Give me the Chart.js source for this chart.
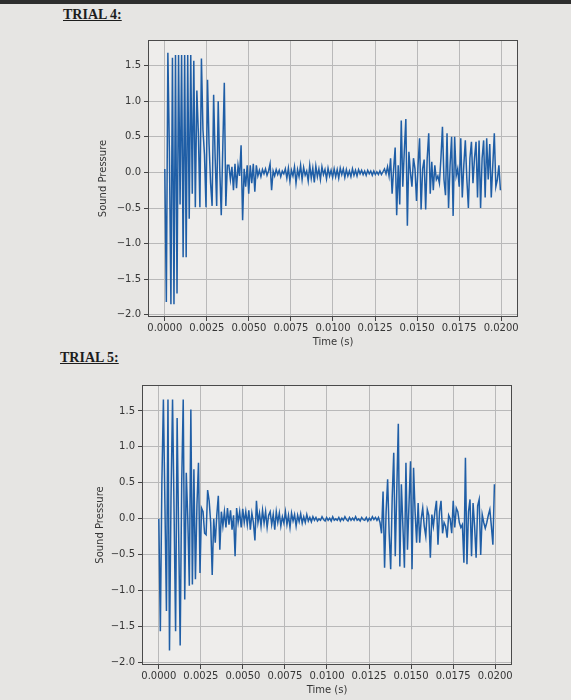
<!DOCTYPE html>
<html>
<head>
<meta charset="utf-8">
<script src="https://cdn.jsdelivr.net/npm/chart.js@4.4.1/dist/chart.umd.min.js"></script>
<style>
  html, body { margin: 0; padding: 0; }
  body {
    width: 571px; height: 700px; position: relative; overflow: hidden;
    background: #e6e5e3; font-family: "DejaVu Sans", sans-serif;
  }
  .topbar { position: absolute; left: 0; top: 0; width: 571px; height: 4px; background: #2e2e2e; }
  .trial {
    position: absolute; font-family: "Liberation Serif", serif; font-weight: bold;
    font-size: 14px; color: #1d1d1d; text-decoration: underline;
  }
  .box { position: absolute; }
</style>
</head>
<body>
<div class="topbar"></div>
<div class="trial" style="left:63px; top:7px;">TRIAL 4:</div>
<div class="trial" style="left:60px; top:350px;">TRIAL 5:</div>
<div class="box" style="left:90px; top:30px; width:440px; height:322px;"><canvas id="trial4"></canvas></div>
<div class="box" style="left:84px; top:375px; width:440px; height:325px;"><canvas id="trial5"></canvas></div>

<script>
// samples (sound pressure vs time)
const SAMPLE_RATE = 11025
const X_TICKS = [0, 0.0025, 0.005, 0.0075, 0.01, 0.0125, 0.015, 0.0175, 0.02]
const Y_TICKS = [-2.0, -1.5, -1.0, -0.5, 0.0, 0.5, 1.0, 1.5]

const trial4 = [
  // burst
  0.05, -1.82, 1.68, 0.3, -1.85, 1.61, -1.85, 1.65, -1.7, 1.65,
  -0.45, 1.65, -1.19, 1.65, -1.19, 1.65, -0.65, 1.65, -0.3, 1.57,
  -0.49, 1.15, 0.55, -0.49, 1.6, 0.6, 0.25, -0.49, 1.3, 0.4,
  -0.15, -0.47, 1.09, 0.2, -0.47, 1.0, 0.05, -0.6, 0.35, 1.26,
  -0.47, 0.1,
  // decay
  0.1, -0.1, 0.08, -0.25, 0.12, -0.22, 0.1, -0.05, 0.38, -0.67,
  0.05, -0.2, 0.1, -0.3, 0.1, -0.15, 0.12, -0.27, 0.1, -0.05,
  // quiet
  0.03, -0.06, 0.04, -0.02, 0.05, -0.04, 0.02, 0.12, -0.25,
  0.02, -0.05, 0.04, -0.03, 0.03, -0.06, 0.02, -0.02,
  0.05, -0.08, 0.06, -0.12, 0.03, -0.05, 0.08, -0.15, 0.04, -0.06,
  0.1, -0.1, 0.07, -0.04, 0.02, -0.12, 0.1, -0.08, 0.06, -0.14,
  0.09, -0.06, 0.05, -0.1, 0.08, -0.03, 0.04, -0.09, 0.06, -0.05,
  0.03, -0.07,
  0.05, -0.06, 0.04, -0.08, 0.06, -0.03, 0.05, -0.07, 0.04, -0.05,
  0.02, -0.06, 0.05, -0.04, 0.03, -0.05, 0.04, -0.02, 0.03,
  -0.03, 0.02, -0.04, 0.03, -0.02, 0.02, -0.04, 0.02, -0.03, 0.01,
  -0.03, 0.02, -0.03, 0.01, 0.05, -0.02,
  // second event
  0.08, -0.05, 0.2, -0.3, 0.05, 0.35, -0.6, 0.1, -0.45, 0.73,
  -0.2, 0.3, 0.75, -0.75, 0.29, 0.0, -0.2, 0.2, 0.05, -0.4,
  0.1, 0.48, -0.52, 0.05, 0.18, -0.52, 0.2, 0.55, -0.3, 0.15,
  -0.25, 0.1, -0.1, -0.05, -0.15, 0.2, 0.64, -0.1, -0.32, 0.55,
  -0.5, 0.1, 0.5, -0.61, 0.5, -0.05, 0.05, -0.2, 0.48, -0.35,
  0.1, 0.45, -0.1, -0.5, 0.2, 0.43, -0.15, 0.2, 0.43, -0.35,
  0.45, -0.5, 0.2, 0.45, -0.35, 0.48, -0.1, 0.4, -0.35, 0.1,
  0.55, -0.2, -0.1, 0.1, -0.25
]

const trial5 = [
  // burst
  0.0, -1.56, 0.5, 1.66, 0.2, -1.28, 1.66, -1.83, 0.3, 1.66,
  0.1, -1.56, 1.4, -0.2, -1.76, 0.5, 1.66, -1.12, 0.64, 0.0,
  -0.93,
  1.52, -0.91, 0.69, -0.84, 0.2, 0.78, -0.75, 0.15, 0.1, -0.2,
  -0.22, 0.4, 0.25, -0.05, -0.78, 0.0, -0.33, 0.05, 0.32, -0.43,
  0.1, -0.1, 0.1,
  // decay
  -0.12, 0.15, -0.08, 0.12, -0.15, 0.05, -0.52, 0.15, -0.05, 0.1,
  -0.12, 0.14, -0.05, 0.1, -0.08, 0.12, -0.15, 0.08, -0.05, -0.3,
  0.25, -0.05, 0.08, -0.1, 0.12, -0.06, 0.1, -0.12, 0.05, 0.1,
  -0.08, 0.06, -0.15, 0.1, -0.05, 0.08, -0.1, 0.03, -0.06, 0.1,
  -0.08, 0.05, -0.12, 0.08, -0.03, 0.06, -0.1, 0.05, -0.04, 0.07,
  -0.06, 0.03, -0.05, 0.06, -0.03, 0.02, -0.04, 0.03,
  // quiet
  -0.02, 0.02, -0.03, 0.0, -0.02, 0.03, -0.01, -0.03, 0.02, -0.02,
  0.01, -0.03, 0.03, -0.02, 0.0, -0.02, 0.02, -0.03, 0.01, -0.02,
  0.03, -0.01, -0.03, 0.02, -0.02, 0.01, -0.02, 0.03, -0.02, 0.0,
  -0.03, 0.02, -0.01, -0.02, 0.02, -0.03, 0.01, -0.02, 0.03, -0.01,
  0.02, -0.02,
  // second event
  0.02, -0.05, -0.2, 0.38, -0.68, 0.1, 0.55, -0.2, -0.7, 0.3,
  0.92, -0.52, 0.4, 1.32, -0.66, 0.48, -0.1, -0.68, 0.78, -0.43,
  0.2, 0.8, -0.7, 0.71, 0.1, -0.33, 0.22, -0.33, 0.0, 0.15,
  -0.1, -0.24, 0.13, 0.05, -0.54, 0.06, -0.1, 0.1, 0.25, -0.36,
  0.1, 0.25, -0.2, -0.05, -0.1, -0.26, 0.05, 0.0, -0.2, 0.25,
  -0.12, 0.15, 0.1, -0.05, -0.12, -0.08, -0.61, 0.85, -0.63, 0.1,
  0.27, -0.52, 0.22, -0.1, -0.54, 0.18, 0.27, -0.5, 0.06, -0.05,
  -0.13, -0.05, 0.05, 0.13, -0.1, -0.36, 0.48
]

const LINE_COLOR = '#1f5ea6'
const TEXT_COLOR = '#363636'

// matplotlib-like axes: face colour and a full box round the plot area
const axesFrame = {
  id: 'axesFrame',
  beforeDraw(chart) {
    const { ctx, chartArea: a } = chart
    ctx.save()
    ctx.fillStyle = '#eeedeb'
    ctx.fillRect(a.left, a.top, a.right - a.left, a.bottom - a.top)
    ctx.restore()
  },
  afterDraw(chart) {
    const { ctx, chartArea: a } = chart
    ctx.save()
    ctx.strokeStyle = '#4a4a4a'
    ctx.lineWidth = 1
    ctx.strokeRect(a.left + 0.5, a.top + 0.5, a.right - a.left - 1, a.bottom - a.top - 1)
    ctx.restore()
  }
}

function makeChart(id, values, yTitlePad) {
  const points = values.map((v, i) => ({ x: i / SAMPLE_RATE, y: v }))
  return new Chart(document.getElementById(id), {
    type: 'line',
    data: {
      datasets: [{
        data: points,
        borderColor: LINE_COLOR,
        borderWidth: 1.5,
        pointRadius: 0,
        tension: 0,
        fill: false
      }]
    },
    options: {
      responsive: true,
      maintainAspectRatio: false,
      animation: false,
      layout: { padding: { top: 10, right: 12, left: 0, bottom: 0 } },
      plugins: { legend: { display: false }, tooltip: { enabled: false } },
      scales: {
        x: {
          type: 'linear',
          min: -0.001,
          max: 0.021,
          afterBuildTicks: s => { s.ticks = X_TICKS.map(v => ({ value: v })) },
          afterFit: s => { s.height = 35 },
          ticks: {
            autoSkip: false, maxRotation: 0, padding: 1,
            color: TEXT_COLOR, font: { family: 'DejaVu Sans', size: 10 },
            callback: v => Number(v).toFixed(4)
          },
          grid: { color: '#b9b9b9', tickColor: '#444', tickLength: 4 },
          border: { display: false },
          title: {
            display: true, text: 'Time (s)', color: TEXT_COLOR,
            font: { family: 'DejaVu Sans', size: 10 }, padding: { top: 0, bottom: 4 }
          }
        },
        y: {
          min: -2.03,
          max: 1.86,
          afterBuildTicks: s => { s.ticks = Y_TICKS.map(v => ({ value: v })) },
          afterFit: s => { s.width = 58 },
          ticks: {
            color: TEXT_COLOR, font: { family: 'DejaVu Sans', size: 10 }, padding: 3,
            callback: v => Number(v).toFixed(1).replace('-', '\u2212')
          },
          grid: { color: '#b9b9b9', tickColor: '#444', tickLength: 4 },
          border: { display: false },
          title: {
            display: true, text: 'Sound Pressure', color: TEXT_COLOR,
            font: { family: 'DejaVu Sans', size: 10 }, padding: { top: yTitlePad, bottom: 0 }
          }
        }
      }
    },
    plugins: [axesFrame]
  })
}

makeChart('trial4', trial4, 7)
makeChart('trial5', trial5, 10)
</script>
</body>
</html>
